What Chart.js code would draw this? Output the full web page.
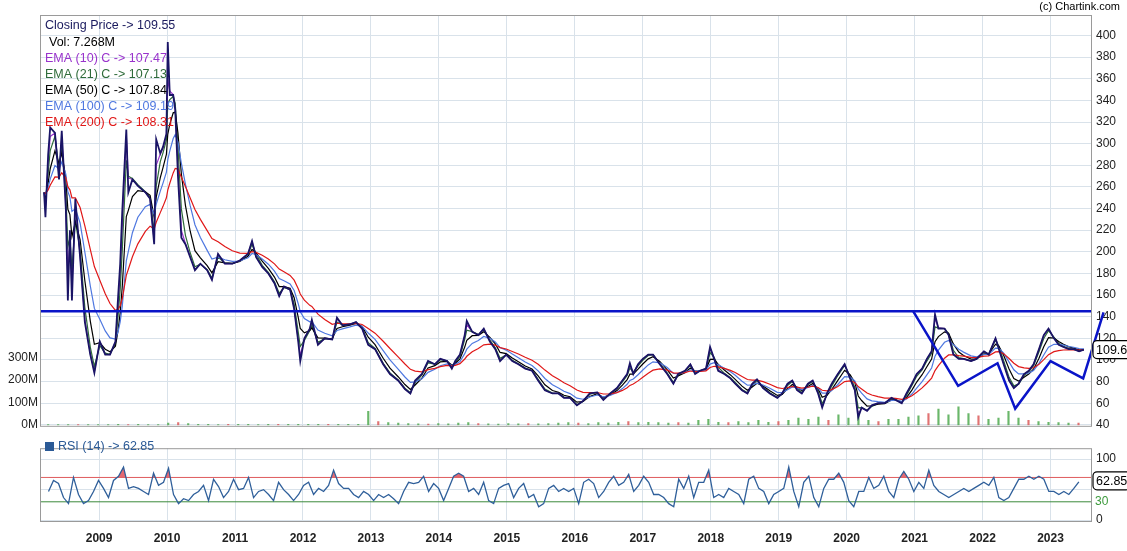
<!DOCTYPE html>
<html>
<head>
<title>Chart</title>
<script src="https://cdn.jsdelivr.net/npm/chart.js"></script>
<style>
  body { margin: 0; background: #fff; }
  #wrap { position: relative; width: 1127px; height: 551px; }
  canvas { position: absolute; left: 0; }
</style>
</head>
<body>
<div id="wrap">
  <canvas id="mainChart" width="1127" height="437" style="top:0"></canvas>
  <canvas id="rsiChart" width="1127" height="114" style="top:437px"></canvas>
</div>
<script>
// dates as decimal years, closes
var priceDates = [2008.19,2008.21,2008.25,2008.28,2008.35,2008.41,2008.45,2008.51,2008.54,2008.57,2008.60,2008.65,2008.72,2008.79,2008.87,2008.93,
  2009.01,2009.09,2009.16,2009.24,2009.28,2009.31,2009.34,2009.40,2009.43,2009.49,2009.57,2009.68,2009.75,2009.81,2009.84,2009.90,2009.94,2009.99,
  2010.01,2010.04,2010.09,2010.12,2010.16,2010.21,2010.27,2010.34,2010.41,2010.49,2010.59,2010.66,2010.75,2010.85,2010.96,
  2011.07,2011.19,2011.25,2011.31,2011.40,2011.49,2011.58,2011.65,2011.72,2011.81,2011.87,2011.93,2011.96,
  2012.02,2012.10,2012.13,2012.22,2012.32,2012.43,2012.50,2012.58,2012.69,2012.78,2012.87,2012.96,
  2013.06,2013.18,2013.28,2013.40,2013.50,2013.58,2013.65,2013.75,2013.84,2013.94,
  2014.02,2014.12,2014.19,2014.24,2014.31,2014.38,2014.41,2014.49,2014.58,2014.66,2014.75,2014.83,2014.90,2014.99,
  2015.08,2015.17,2015.27,2015.37,2015.46,2015.56,2015.67,2015.76,2015.84,2015.93,
  2016.03,2016.12,2016.22,2016.33,2016.42,2016.52,2016.62,2016.70,2016.77,2016.81,2016.86,2016.93,
  2017.00,2017.08,2017.15,2017.25,2017.36,2017.45,2017.52,2017.62,2017.70,2017.77,2017.84,2017.93,2017.99,
  2018.05,2018.11,2018.20,2018.29,2018.36,2018.46,2018.54,2018.61,2018.68,2018.77,2018.87,2018.98,
  2019.05,2019.13,2019.20,2019.27,2019.34,2019.43,2019.50,2019.58,2019.64,2019.71,2019.78,2019.87,2019.97,
  2020.05,2020.12,2020.17,2020.22,2020.30,2020.37,2020.46,2020.56,2020.66,2020.72,2020.81,2020.88,2020.96,
  2021.03,2021.11,2021.18,2021.25,2021.30,2021.35,2021.44,2021.50,2021.57,2021.65,2021.72,2021.83,2021.91,
  2022.02,2022.09,2022.19,2022.24,2022.31,2022.39,2022.46,2022.53,2022.61,2022.68,2022.75,2022.83,2022.90,2022.97,
  2023.05,2023.12,2023.19,2023.27,2023.34,2023.42,2023.49];
var closes = [255,232,290,315,310,267,312,240,155,220,155,249,195,135,105,88,
  117,105,105,117,159,189,237,313,255,267,261,255,249,207,304,291,297,309,
  394,345,345,331,270,213,207,195,183,189,183,174,198,189,189,
  192,198,210,195,186,180,171,159,168,165,147,117,99,
  120,129,137,114,120,119,139,132,133,135,129,114,
  110,96,87,81,73,69,81,87,99,96,
  101,99,92,99,105,123,136,126,123,129,117,110,99,105,
  99,96,92,90,81,72,69,69,65,65,
  58,62,69,70,63,69,74,81,87,97,87,96,
  101,105,105,96,87,78,87,90,96,87,90,92,112,
  101,90,87,83,78,72,69,78,82,74,69,65,
  69,78,81,72,69,78,81,69,56,69,78,87,96,
  83,72,47,56,53,58,60,60,65,63,60,69,78,
  87,92,101,108,142,129,129,123,105,101,101,99,101,
  108,105,120,110,96,81,74,78,87,90,96,110,123,129,
  120,114,112,110,110,108,109.55];

// volume (millions), one bar every 10px of the picture
var volStart = 2008.25, volStep = 0.1472;
var volumes = [1,1,1,1,1,1,1,2,1,2,1,1, 8,10,6,
  2,2,1,2,2,2,1,2,3,2,2,2,3,2,3,2,3,
  60,15,10,8,6,5,4,6,5,8,10,6,5,4,6,5,6,5,6,8,10,8,6,10,8,12,15,10,12,10,8,10,8,20,25,12,10,15,10,20,12,
  15,20,30,25,35,20,45,30,60,20,15,25,25,35,40,50,70,45,80,50,40,25,30,60,30,20,15,12,10,8,8];

// RSI (14), one reading every 5px of the picture
var rsiStart = 2008.255, rsiStep = 0.0736;
var rsiValues = [47,65,60,37,27,70,42,27,32,47,65,52,37,65,72,87,52,55,52,47,42,77,57,62,85,42,27,35,32,42,
  47,57,32,67,55,37,47,67,50,52,70,37,47,50,42,32,62,50,42,32,42,57,62,42,52,47,57,82,60,52,
  52,42,37,47,42,32,42,37,42,35,27,47,62,60,62,72,47,60,52,32,52,72,77,72,47,52,42,62,32,27,
  52,57,60,37,52,60,37,42,22,27,52,57,47,
  52,47,52,27,62,67,60,37,47,62,72,57,62,75,47,57,72,62,42,42,37,27,22,67,52,72,37,62,62,82,
  37,42,37,52,47,42,27,67,72,52,47,27,42,47,52,87,47,22,62,72,37,22,52,67,67,77,62,32,22,47,
  47,70,52,57,72,47,37,67,80,67,47,62,52,82,57,47,42,37,42,47,52,47,52,57,62,57,70,37,32,37,
  52,67,67,72,67,72,67,47,47,42,47,42,52,62.85];

var yearTicks = [2009,2010,2011,2012,2013,2014,2015,2016,2017,2018,2019,2020,2021,2022,2023];
var priceTicks = [40,60,80,100,120,140,160,180,200,220,240,260,280,300,320,340,360,380,400];
var volTicks = [0,100,200,300];

var resistance = 145;
var patternDates = [2020.98,2021.64,2022.22,2022.48,2023.00,2023.48,2023.78];
var patternPrices = [145,76,97,55,99,83,144];

var emaPeriods = [10,21,50,100,200];
var emaColors = ['#9933cc','#2e6b3a','#000000','#4f78e0','#e01818'];

var xMin = 2008.13, xMax = 2023.61;

function ema(dates, vals, n) {
  var tau = (n + 1) / 2 / 252, out = [], e = vals[0];
  for (var i = 0; i < vals.length; i++) {
    if (i > 0) {
      var a = 1 - Math.exp(-(dates[i] - dates[i - 1]) / tau);
      e = e + a * (vals[i] - e);
    }
    out.push({x: dates[i], y: e});
  }
  return out;
}

var font = {family: 'Liberation Sans, Arial, sans-serif', size: 12};
var gridColor = '#d9e2ea';

var datasets = [];
datasets.push({
  type: 'bar', yAxisID: 'yVol', order: 10,
  data: volumes.map(function (v, i) { return {x: volStart + i * volStep, y: v}; }),
  backgroundColor: volumes.map(function (v, i) { return i % 5 == 3 ? 'rgba(220,90,90,0.85)' : 'rgba(80,170,80,0.85)'; }),
  barThickness: 1.5
});
for (var k = emaPeriods.length - 1; k >= 0; k--) {
  datasets.push({
    data: ema(priceDates, closes, emaPeriods[k]), yAxisID: 'y',
    borderColor: emaColors[k], borderWidth: 1.2, pointRadius: 0, order: 5
  });
}
datasets.push({
  data: priceDates.map(function (d, i) { return {x: d, y: closes[i]}; }), yAxisID: 'y',
  borderColor: '#1a1466', borderWidth: 1.8, pointRadius: 0, order: 1
});
datasets.push({
  data: [{x: xMin, y: resistance}, {x: xMax, y: resistance}], yAxisID: 'y',
  borderColor: '#0a14c8', borderWidth: 2.5, pointRadius: 0, order: 0
});
datasets.push({
  data: patternDates.map(function (d, i) { return {x: d, y: patternPrices[i]}; }), yAxisID: 'y',
  borderColor: '#0a14c8', borderWidth: 2.5, pointRadius: 0, order: 0, clip: false
});

function tickSetter(list) {
  return function (scale) { scale.ticks = list.map(function (v) { return {value: v}; }); };
}

var frame = {
  id: 'frame',
  afterDraw: function (chart) {
    var c = chart.ctx, a = chart.chartArea;
    c.save();
    c.strokeStyle = '#9a9a9a';
    c.lineWidth = 1;
    c.strokeRect(a.left + 0.5, a.top + 0.5, a.right - a.left - 1, a.bottom - a.top);
    c.restore();
  }
};

function valueBox(c, x, y, text) {
  c.font = '12.5px Liberation Sans, Arial, sans-serif';
  var w = c.measureText(text).width + 6;
  c.fillStyle = '#fff';
  c.strokeStyle = '#000';
  c.lineWidth = 1.2;
  c.beginPath();
  c.roundRect(x, y - 9, w, 18, 4);
  c.fill();
  c.stroke();
  c.fillStyle = '#000';
  c.textBaseline = 'middle';
  c.textAlign = 'left';
  c.fillText(text, x + 3, y + 1);
}

var mainText = {
  id: 'mainText',
  afterDraw: function (chart) {
    var c = chart.ctx;
    c.save();
    c.font = '12.5px Liberation Sans, Arial, sans-serif';
    c.textBaseline = 'middle';
    c.textAlign = 'left';
    c.fillStyle = '#1a1a5e';
    c.fillText('Closing Price -> 109.55', 45, 26);
    c.fillStyle = '#000';
    c.fillText('Vol: 7.268M', 49, 43);
    var labels = ['EMA (10) C -> 107.47','EMA (21) C -> 107.13','EMA (50) C -> 107.84','EMA (100) C -> 109.19','EMA (200) C -> 108.31'];
    for (var i = 0; i < labels.length; i++) {
      c.fillStyle = emaColors[i];
      c.fillText(labels[i], 45, 59 + i * 16);
    }
    // volume axis labels
    c.font = '12px Liberation Sans, Arial, sans-serif';
    c.textAlign = 'right';
    c.fillStyle = '#222';
    var sv = chart.scales.yVol;
    volTicks.forEach(function (v) { c.fillText(v + 'M', 38, sv.getPixelForValue(v)); });
    c.font = '11px Liberation Sans, Arial, sans-serif';
    c.fillStyle = '#000';
    c.fillText('(c) Chartink.com', 1120, 7);
    var y = chart.scales.y.getPixelForValue(109.55);
    valueBox(c, 1093, y, '109.6');
    c.restore();
  }
};

new Chart(document.getElementById('mainChart'), {
  type: 'line',
  data: {datasets: datasets},
  options: {
    responsive: false, animation: false,
    layout: {padding: {top: 15, bottom: 0, left: 0, right: 0}},
    plugins: {legend: {display: false}, tooltip: {enabled: false}},
    scales: {
      x: {
        type: 'linear', min: xMin, max: xMax, offset: false,
        afterBuildTicks: tickSetter(yearTicks),
        afterFit: function (s) { s.height = 1; },
        ticks: {display: false},
        grid: {color: gridColor, drawTicks: false, offset: false},
        border: {display: false}
      },
      y: {
        position: 'right', min: 39.1, max: 419,
        afterBuildTicks: tickSetter(priceTicks),
        afterFit: function (s) { s.width = 35; },
        ticks: {font: font, color: '#222', padding: 4},
        grid: {color: gridColor, drawTicks: false},
        border: {display: false}
      },
      yVol: {
        position: 'left', min: -4, max: 1826,
        afterFit: function (s) { s.width = 40; },
        ticks: {display: false},
        grid: {display: false},
        border: {display: false}
      }
    }
  },
  plugins: [frame, mainText]
});

var rsiText = {
  id: 'rsiText',
  afterDraw: function (chart) {
    var c = chart.ctx;
    c.save();
    c.fillStyle = '#2b5a96';
    c.fillRect(45, 5, 9, 9);
    c.font = '12.5px Liberation Sans, Arial, sans-serif';
    c.textBaseline = 'middle';
    c.textAlign = 'left';
    c.fillText('RSI (14) -> 62.85', 58, 10);
    var s = chart.scales.y;
    c.font = '12px Liberation Sans, Arial, sans-serif';
    c.fillStyle = '#3c9a3c';
    c.fillText('30', 1095, s.getPixelForValue(30));
    valueBox(c, 1093, s.getPixelForValue(62.85) - 1, '62.85');
    c.restore();
  }
};

new Chart(document.getElementById('rsiChart'), {
  type: 'line',
  data: {
    datasets: [
      {data: rsiValues.map(function (v, i) { return {x: rsiStart + i * rsiStep, y: v}; }),
       borderColor: '#2f5f9a', borderWidth: 1.3, pointRadius: 0,
       fill: {target: {value: 70}, above: 'rgba(225,80,90,0.85)', below: 'rgba(0,0,0,0)'}},
      {data: [{x: xMin, y: 70}, {x: xMax, y: 70}], borderColor: '#e06060', borderWidth: 1, pointRadius: 0},
      {data: [{x: xMin, y: 30}, {x: xMax, y: 30}], borderColor: '#3c8a3c', borderWidth: 1, pointRadius: 0}
    ]
  },
  options: {
    responsive: false, animation: false,
    layout: {padding: {top: 4, left: 40, right: 0, bottom: 0}},
    plugins: {legend: {display: false}, tooltip: {enabled: false}},
    scales: {
      x: {
        type: 'linear', min: xMin, max: xMax,
        afterBuildTicks: tickSetter(yearTicks),
        afterFit: function (s) { s.height = 30; },
        ticks: {font: {family: font.family, size: 12, weight: 'bold'}, color: '#222', padding: 10,
                callback: function (v) { return String(v); }},
        grid: {color: gridColor, drawTicks: false},
        border: {display: false}
      },
      y: {
        position: 'right', min: -1.5, max: 118,
        afterBuildTicks: tickSetter([0, 50, 100]),
        afterFit: function (s) { s.width = 35; },
        ticks: {font: font, color: '#222', padding: 4,
                callback: function (v) { return v == 50 ? '' : String(v); }},
        grid: {color: gridColor, drawTicks: false},
        border: {display: false}
      }
    }
  },
  plugins: [frame, rsiText]
});
</script>
</body>
</html>
